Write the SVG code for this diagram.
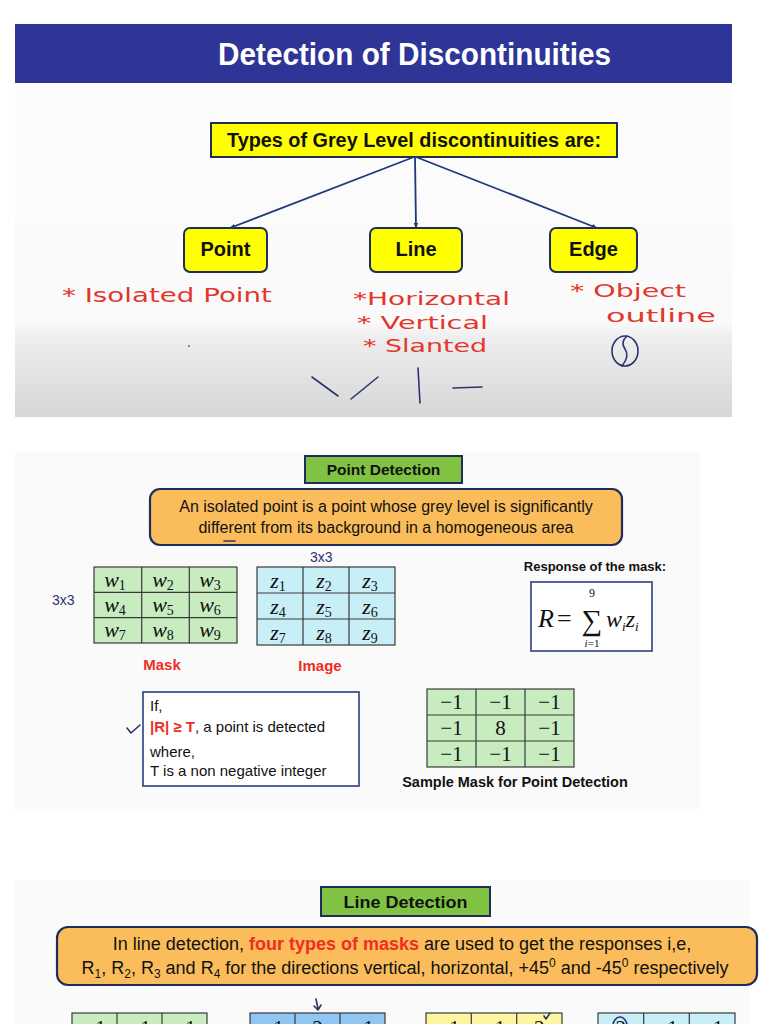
<svg xmlns="http://www.w3.org/2000/svg" width="768" height="1024" viewBox="0 0 768 1024">
<style>
.sans{font-family:"Liberation Sans",Arial,sans-serif}
.serif{font-family:"Liberation Serif","Times New Roman",serif}
.hand{font-family:"DejaVu Sans",sans-serif;fill:#e2362c}
.ink{fill:none;stroke:#2b3470;stroke-width:1.6;stroke-linecap:round;stroke-linejoin:round}
.ybox{fill:#ffff00;stroke:#1f2d5c;stroke-width:2}
.gbox{fill:#80c342;stroke:#1f2d5c;stroke-width:2}
.obox{fill:#fbbd5b;stroke:#1f2d5c;stroke-width:2.2}
.cell{stroke:#3a3a3a;stroke-width:1.2}
.conn{stroke:#1f3a78;stroke-width:1.8;fill:none}
</style>
<defs>
<linearGradient id="bg1" x1="0" y1="0" x2="0" y2="1">
<stop offset="0" stop-color="#fdfdfd"/>
<stop offset="0.76" stop-color="#fafafa"/>
<stop offset="0.8" stop-color="#eeeeee"/>
<stop offset="1" stop-color="#d6d6d6"/>
</linearGradient>
<marker id="arr" viewBox="0 0 10 10" refX="9" refY="5" markerWidth="6" markerHeight="6" orient="auto" markerUnits="userSpaceOnUse">
<path d="M0,1 L10,5 L0,9 z" fill="#1f3a78"/>
</marker>
</defs>
<rect width="768" height="1024" fill="#ffffff"/>

<!-- Slide 1 -->
<rect x="15" y="20" width="717" height="397" fill="url(#bg1)"/>
<g id="title">
<rect x="15" y="24" width="717" height="59" fill="#2f3596"/>
<text x="414.5" y="65" text-anchor="middle" class="sans" font-weight="bold" font-size="32" fill="#ffffff" textLength="393" lengthAdjust="spacingAndGlyphs">Detection of Discontinuities</text>
</g>
<g id="types">
<rect x="211" y="123" width="406" height="34" class="ybox"/>
<text x="414" y="147" text-anchor="middle" class="sans" font-weight="bold" font-size="20" fill="#111" textLength="374" lengthAdjust="spacingAndGlyphs">Types of Grey Level discontinuities are:</text>
</g>
<g id="point">
<rect x="184" y="228" width="83" height="44" rx="6" class="ybox"/>
<text x="225.5" y="256" text-anchor="middle" class="sans" font-weight="bold" font-size="20" fill="#111">Point</text>
</g>
<g id="line">
<rect x="370" y="228" width="92" height="44" rx="6" class="ybox"/>
<text x="416" y="256" text-anchor="middle" class="sans" font-weight="bold" font-size="20" fill="#111">Line</text>
</g>
<g id="edge">
<rect x="550" y="228" width="87" height="44" rx="6" class="ybox"/>
<text x="593.5" y="256" text-anchor="middle" class="sans" font-weight="bold" font-size="20" fill="#111">Edge</text>
</g>
<g id="connectors">
<line x1="414" y1="157" x2="230" y2="228" class="conn" marker-end="url(#arr)"/>
<line x1="415" y1="157" x2="416" y2="228" class="conn" marker-end="url(#arr)"/>
<line x1="416" y1="157" x2="597" y2="228" class="conn" marker-end="url(#arr)"/>
</g>
<g id="annotations1">
<text x="62" y="302" class="hand" font-size="19" textLength="210" lengthAdjust="spacingAndGlyphs">* Isolated Point</text>
<text x="353" y="305" class="hand" font-size="17" textLength="157" lengthAdjust="spacingAndGlyphs">*Horizontal</text>
<text x="357" y="329" class="hand" font-size="17" textLength="131" lengthAdjust="spacingAndGlyphs">* Vertical</text>
<text x="363" y="352" class="hand" font-size="17" textLength="124" lengthAdjust="spacingAndGlyphs">* Slanted</text>
<text x="570" y="297" class="hand" font-size="17" textLength="116" lengthAdjust="spacingAndGlyphs">* Object</text>
<text x="606" y="322" class="hand" font-size="17" textLength="110" lengthAdjust="spacingAndGlyphs">outline</text>
<circle cx="189" cy="346" r="0.9" fill="#555"/>
<path class="ink" d="M312,377 L338,396"/>
<path class="ink" d="M351,399 L378,377"/>
<path class="ink" d="M418,368 Q419,386 420,403"/>
<path class="ink" d="M453,388 L482,387"/>
<ellipse class="ink" cx="625" cy="351" rx="13" ry="15" stroke-width="1.4"/>
<path class="ink" stroke-width="1.4" d="M627,336 Q620,342 625,349 Q630,356 622,366"/>
</g>

<!-- Slide 2 -->
<rect x="15" y="452" width="685" height="357" fill="#fafafa"/>
<g id="point-detection">
<rect x="305" y="456" width="157" height="27" class="gbox"/>
<text x="383.5" y="475" text-anchor="middle" class="sans" font-weight="bold" font-size="15.5" fill="#111">Point Detection</text>
</g>
<g id="point-def">
<rect x="150" y="489" width="472" height="56" rx="10" class="obox"/>
<text x="386" y="512" text-anchor="middle" class="sans" font-size="16" fill="#111">An isolated point is a point whose grey level is significantly</text>
<text x="386" y="533" text-anchor="middle" class="sans" font-size="16" fill="#111">different from its background in a homogeneous area</text>
<path class="ink" d="M224,541 L235,541"/>
</g>
<text x="52" y="605" class="sans" font-size="14" fill="#2b3470">3x3</text>
<text x="310" y="562" class="sans" font-size="14" fill="#2b3470">3x3</text>
<g id="mask">
<rect x="94" y="567" width="143" height="76" fill="#c8ecc0" class="cell"/>
<path class="cell" fill="none" d="M141.7,567V643M189.3,567V643M94,592.3H237M94,617.7H237"/>
<g class="serif" font-style="italic" font-size="22" fill="#111" text-anchor="middle">
<text x="115" y="587">w<tspan font-size="14" dy="3" font-style="normal">1</tspan></text>
<text x="163" y="587">w<tspan font-size="14" dy="3" font-style="normal">2</tspan></text>
<text x="210" y="587">w<tspan font-size="14" dy="3" font-style="normal">3</tspan></text>
<text x="115" y="612">w<tspan font-size="14" dy="3" font-style="normal">4</tspan></text>
<text x="163" y="612">w<tspan font-size="14" dy="3" font-style="normal">5</tspan></text>
<text x="210" y="612">w<tspan font-size="14" dy="3" font-style="normal">6</tspan></text>
<text x="115" y="637">w<tspan font-size="14" dy="3" font-style="normal">7</tspan></text>
<text x="163" y="637">w<tspan font-size="14" dy="3" font-style="normal">8</tspan></text>
<text x="210" y="637">w<tspan font-size="14" dy="3" font-style="normal">9</tspan></text>
</g>
<text x="162" y="670" text-anchor="middle" class="sans" font-weight="bold" font-size="15" fill="#ee2e24">Mask</text>
</g>
<g id="image">
<rect x="257" y="567" width="138" height="78" fill="#c8eff7" class="cell"/>
<path class="cell" fill="none" d="M303,567V645M349,567V645M257,593H395M257,619H395"/>
<g class="serif" font-style="italic" font-size="22" fill="#111" text-anchor="middle">
<text x="278" y="588">z<tspan font-size="14" dy="3" font-style="normal">1</tspan></text>
<text x="324" y="588">z<tspan font-size="14" dy="3" font-style="normal">2</tspan></text>
<text x="370" y="588">z<tspan font-size="14" dy="3" font-style="normal">3</tspan></text>
<text x="278" y="614">z<tspan font-size="14" dy="3" font-style="normal">4</tspan></text>
<text x="324" y="614">z<tspan font-size="14" dy="3" font-style="normal">5</tspan></text>
<text x="370" y="614">z<tspan font-size="14" dy="3" font-style="normal">6</tspan></text>
<text x="278" y="640">z<tspan font-size="14" dy="3" font-style="normal">7</tspan></text>
<text x="324" y="640">z<tspan font-size="14" dy="3" font-style="normal">8</tspan></text>
<text x="370" y="640">z<tspan font-size="14" dy="3" font-style="normal">9</tspan></text>
</g>
<text x="320" y="671" text-anchor="middle" class="sans" font-weight="bold" font-size="15" fill="#ee2e24">Image</text>
</g>
<g id="response">
<text x="595" y="571" text-anchor="middle" class="sans" font-weight="bold" font-size="13" fill="#111">Response of the mask:</text>
<rect x="531" y="582" width="121" height="69" fill="#ffffff" stroke="#2b3f80" stroke-width="1.6"/>
<g class="serif" fill="#111">
<text x="538" y="627" font-style="italic" font-size="26">R</text>
<text x="557" y="627" font-size="26">=</text>
<text x="592" y="630" text-anchor="middle" font-size="29">∑</text>
<text x="592" y="597" text-anchor="middle" font-size="12">9</text>
<text x="592" y="647" text-anchor="middle" font-size="11"><tspan font-style="italic">i</tspan>=1</text>
<text x="606" y="627" font-style="italic" font-size="24">w<tspan font-size="13" dy="4">i</tspan><tspan dy="-4">z</tspan><tspan font-size="13" dy="4">i</tspan></text>
</g>
</g>
<g id="condition">
<rect x="143" y="692" width="216" height="94" fill="#ffffff" stroke="#2b3f80" stroke-width="1.6"/>
<g class="sans" font-size="15" fill="#111">
<text x="150" y="711">If,</text>
<text x="150" y="732"><tspan fill="#ee2e24" font-weight="bold">|R| ≥ T</tspan>, a point is detected</text>
<text x="150" y="757">where,</text>
<text x="150" y="776">T is a non negative integer</text>
</g>
<path class="ink" d="M127,728 L131,733 L140,725"/>
</g>
<g id="sample-mask">
<rect x="427" y="689" width="147" height="78" fill="#c8ecc0" class="cell"/>
<path class="cell" fill="none" d="M476,689V767M525,689V767M427,715H574M427,741H574"/>
<g class="serif" font-size="21" fill="#111" text-anchor="middle">
<text x="451.5" y="709">−1</text><text x="500.5" y="709">−1</text><text x="549.5" y="709">−1</text>
<text x="451.5" y="735">−1</text><text x="500.5" y="735">8</text><text x="549.5" y="735">−1</text>
<text x="451.5" y="761">−1</text><text x="500.5" y="761">−1</text><text x="549.5" y="761">−1</text>
</g>
<text x="515" y="787" text-anchor="middle" class="sans" font-weight="bold" font-size="14.5" fill="#111">Sample Mask for Point Detection</text>
</g>

<!-- Slide 3 -->
<rect x="15" y="880" width="735" height="144" fill="#fafafa"/>
<g id="line-detection">
<rect x="321" y="887" width="169" height="29" class="gbox"/>
<text x="405.5" y="908" text-anchor="middle" class="sans" font-weight="bold" font-size="17" fill="#111" textLength="124" lengthAdjust="spacingAndGlyphs">Line Detection</text>
</g>
<g id="line-def">
<rect x="57" y="927" width="700" height="58" rx="11" class="obox"/>
<text x="402" y="950" text-anchor="middle" class="sans" font-size="18" fill="#111">In line detection, <tspan fill="#ee2e24" font-weight="bold">four types of masks</tspan> are used to get the responses i,e,</text>
<text x="405" y="974" text-anchor="middle" class="sans" font-size="18" fill="#111">R<tspan font-size="12" dy="4">1</tspan><tspan dy="-4">, R</tspan><tspan font-size="12" dy="4">2</tspan><tspan dy="-4">, R</tspan><tspan font-size="12" dy="4">3</tspan><tspan dy="-4"> and R</tspan><tspan font-size="12" dy="4">4</tspan><tspan dy="-4"> for the directions vertical, horizontal, +45</tspan><tspan font-size="12" dy="-7">0</tspan><tspan dy="7"> and -45</tspan><tspan font-size="12" dy="-7">0</tspan><tspan dy="7"> respectively</tspan></text>
</g>
<g id="mask-horizontal">
<rect x="72" y="1013" width="135" height="78" fill="#c8ecc0" class="cell"/>
<path class="cell" fill="none" d="M117,1013V1091M162,1013V1091"/>
<g class="serif" font-size="21" fill="#111" text-anchor="middle"><text x="94.5" y="1035">−1</text><text x="139.5" y="1035">−1</text><text x="184.5" y="1035">−1</text></g>
</g>
<g id="mask-vertical">
<rect x="250" y="1013" width="135" height="78" fill="#8fc6f2" class="cell"/>
<path class="cell" fill="none" d="M295,1013V1091M340,1013V1091"/>
<g class="serif" font-size="21" fill="#111" text-anchor="middle"><text x="272.5" y="1035">−1</text><text x="317.5" y="1035">2</text><text x="362.5" y="1035">−1</text></g>
<path class="ink" d="M316,999 L318,1009 M314,1006 L318,1010 L321,1005"/>
</g>
<g id="mask-plus45">
<rect x="426" y="1013" width="136" height="78" fill="#fdf6a0" class="cell"/>
<path class="cell" fill="none" d="M471.3,1013V1091M516.7,1013V1091"/>
<g class="serif" font-size="21" fill="#111" text-anchor="middle"><text x="448.7" y="1035">−1</text><text x="494" y="1035">−1</text><text x="539.3" y="1035">2</text></g>
<path class="ink" stroke-width="1.2" d="M544,1016 L546,1019 L550,1013"/>
</g>
<g id="mask-minus45">
<rect x="598" y="1013" width="137" height="78" fill="#c8eff7" class="cell"/>
<path class="cell" fill="none" d="M643.7,1013V1091M689.3,1013V1091"/>
<g class="serif" font-size="21" fill="#111" text-anchor="middle"><text x="620.8" y="1035">2</text><text x="666.5" y="1035">−1</text><text x="712.2" y="1035">−1</text></g>
<ellipse class="ink" cx="620" cy="1026" rx="7" ry="9" stroke-width="1.3"/>
</g>
</svg>
